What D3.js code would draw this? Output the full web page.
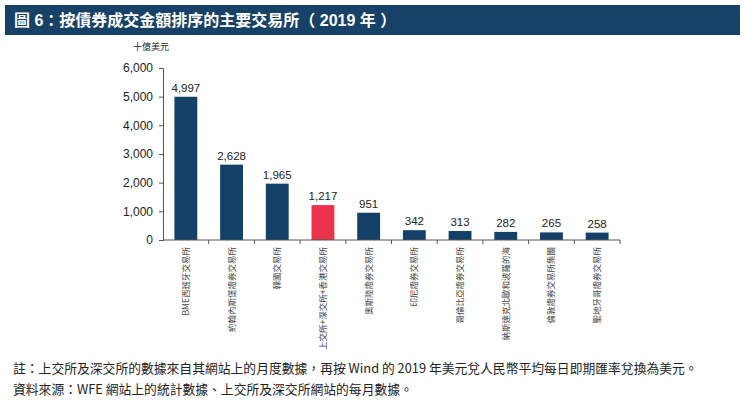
<!DOCTYPE html>
<html lang="zh-Hant">
<head>
<meta charset="UTF-8">
<title>主要交易所債券成交金額</title>
<style>
  body { margin: 0; background: #fff; }
  svg text { font-family: "Liberation Sans", Arial, "Noto Sans CJK TC", sans-serif; }
</style>
</head>
<body>
<script src="https://d3js.org/d3.v7.min.js"></script>
<script>
// data
var exchanges = ["BME西班牙交易所", "約翰內斯堡證券交易所", "韓國交易所", "上交所+深交所+香港交易所",
  "奧斯陸證券交易所", "印尼證券交易所", "哥倫比亞證券交易所", "納斯達克北歐和波羅的海",
  "倫敦證券交易所集團", "聖地牙哥證券交易所"];
var values = [4997, 2628, 1965, 1217, 951, 342, 313, 282, 265, 258];
var highlight = ["上交所+深交所+香港交易所"];
var yTicks = [0, 1000, 2000, 3000, 4000, 5000, 6000];

const width = 747, height = 400;
const navy = "#143f66", red = "#e8334b", ink = "#222";

const svg = d3.select("body").append("svg")
  .attr("width", width)
  .attr("height", height);

// title band
svg.append("rect")
  .attr("x", 5).attr("y", 5)
  .attr("width", 735).attr("height", 30)
  .attr("fill", "#174167");
svg.append("text")
  .attr("x", 14).attr("y", 26)
  .attr("fill", "#fff")
  .attr("font-size", 16)
  .attr("font-weight", "bold")
  .text("圖 6：按債券成交金額排序的主要交易所（ 2019 年 ）");

// plot area
const x = d3.scaleBand().domain(exchanges).range([163, 620]).paddingInner(0.5).paddingOuter(0.25);
const y = d3.scaleLinear().domain([0, 6000]).range([240, 68]);

const g = svg.append("g");

g.selectAll("rect.bar")
  .data(exchanges)
  .enter().append("rect")
  .attr("class", "bar")
  .attr("x", d => x(d))
  .attr("width", x.bandwidth())
  .attr("y", (d, i) => y(values[i]))
  .attr("height", (d, i) => y(0) - y(values[i]))
  .attr("fill", d => highlight.includes(d) ? red : navy);

g.selectAll("text.val")
  .data(exchanges)
  .enter().append("text")
  .attr("class", "val")
  .attr("x", d => x(d) + x.bandwidth() / 2)
  .attr("y", (d, i) => y(values[i]) - 5)
  .attr("text-anchor", "middle")
  .attr("font-size", 11.5)
  .attr("fill", ink)
  .text((d, i) => d3.format(",")(values[i]));

// y axis
const yAxis = g.append("g")
  .attr("transform", "translate(163,0)")
  .call(d3.axisLeft(y).tickValues(yTicks).tickFormat(d3.format(",")).tickSize(4).tickPadding(6));
yAxis.select(".domain").attr("stroke", "#555");
yAxis.selectAll(".tick line").attr("stroke", "#555");
yAxis.selectAll("text").attr("font-size", 12).attr("fill", ink)
  .style("font-family", '"Liberation Sans", Arial, sans-serif');

svg.append("text")
  .attr("x", 151).attr("y", 50)
  .attr("text-anchor", "middle")
  .attr("font-size", 9)
  .attr("fill", ink)
  .style("font-family", '"Noto Sans CJK TC", sans-serif')
  .text("十億美元");

// x axis: ticks at the band boundaries, labels rotated
const step = x.step();
const bounds = exchanges.map(d => x(d) + x.bandwidth() + step * 0.25);
g.append("line")
  .attr("x1", 163).attr("x2", 620)
  .attr("y1", y(0)).attr("y2", y(0))
  .attr("stroke", "#555");
g.selectAll("line.xt")
  .data(bounds)
  .enter().append("line")
  .attr("class", "xt")
  .attr("x1", d => d).attr("x2", d => d)
  .attr("y1", y(0)).attr("y2", y(0) + 4)
  .attr("stroke", "#555");

g.selectAll("text.cat")
  .data(exchanges)
  .enter().append("text")
  .attr("class", "cat")
  .attr("transform", d => "translate(" + (x(d) + x.bandwidth() / 2 + 3) + "," + (y(0) + 7) + ") rotate(-90)")
  .attr("text-anchor", "end")
  .attr("font-size", 8.5)
  .attr("fill", "#444")
  .style("font-family", '"Noto Sans CJK TC", sans-serif')
  .text(d => d);

// footnotes
svg.append("text")
  .attr("x", 13).attr("y", 373)
  .attr("font-size", 12.8)
  .attr("fill", ink)
  .style("font-family", '"Noto Sans CJK TC", sans-serif')
  .text("註：上交所及深交所的數據來自其網站上的月度數據，再按 Wind 的 2019 年美元兌人民幣平均每日即期匯率兌換為美元。");
svg.append("text")
  .attr("x", 13).attr("y", 394)
  .attr("font-size", 12.8)
  .attr("fill", ink)
  .style("font-family", '"Noto Sans CJK TC", sans-serif')
  .text("資料來源：WFE 網站上的統計數據、上交所及深交所網站的每月數據。");
</script>
</body>
</html>
